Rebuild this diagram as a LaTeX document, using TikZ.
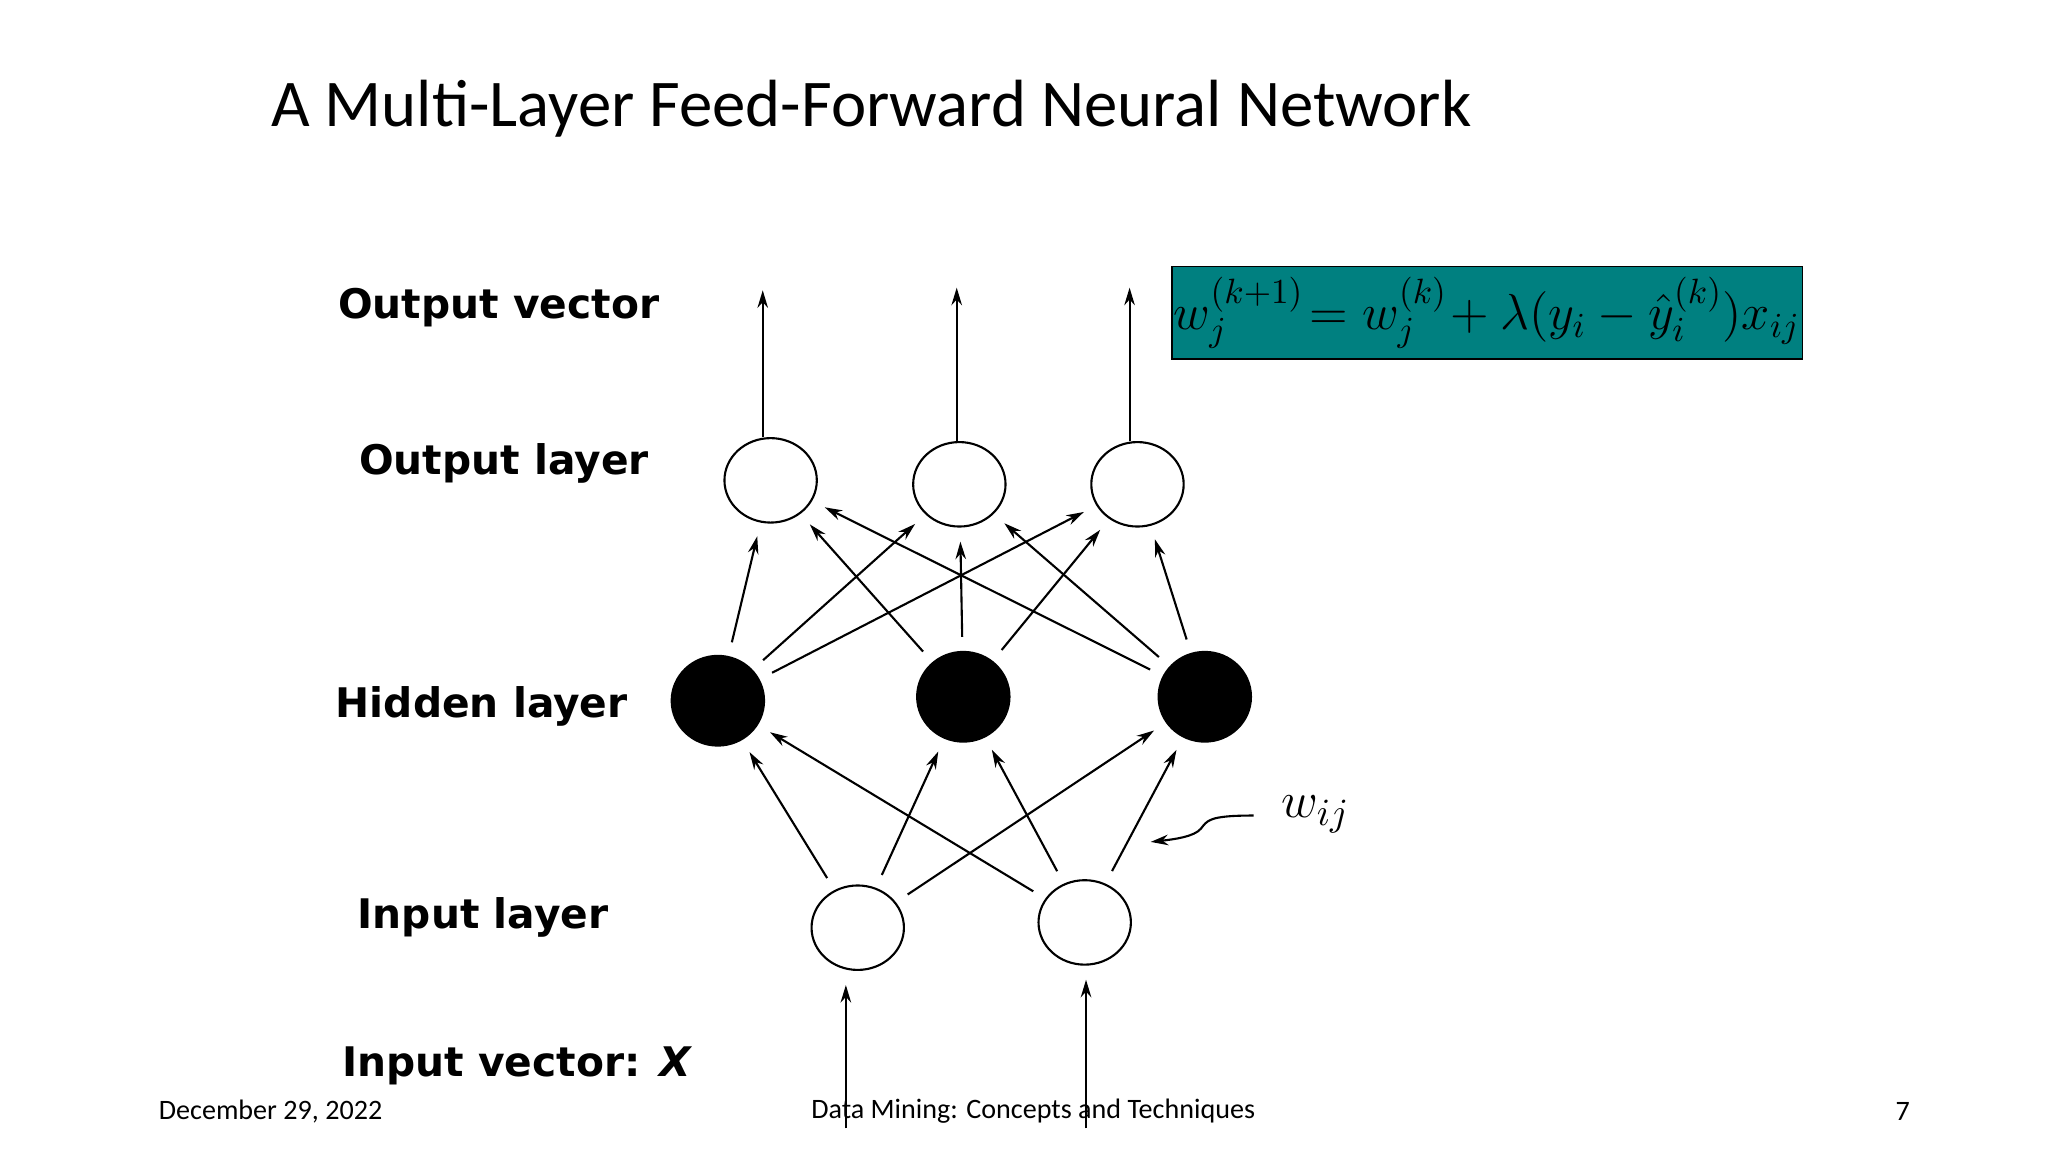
\documentclass[tikz,border=0pt]{standalone}
\usepackage{fontspec}
\setmainfont{Carlito}
\newfontfamily\lblfont{DejaVu Sans}
\usetikzlibrary{arrows.meta,shapes.geometric}
\definecolor{boxteal}{RGB}{0,128,128}
\begin{document}
\begin{tikzpicture}[x=0.013196cm, y=-0.013196cm,
    unit/.style={draw, ellipse, minimum width=70*0.013196cm, minimum height=64*0.013196cm, line width=0.6pt},
    hid/.style={unit, fill=black, minimum height=68*0.013196cm},
    lbl/.style={font=\lblfont\bfseries\fontsize{11.6}{14}\selectfont},
    link/.style={-{Stealth[length=5pt,width=3pt]}, line width=0.6pt, shorten >=4pt, shorten <=4pt}]
    % Rahmen
    \useasboundingbox (0,0) rectangle (1552,873);
    % Titel
    \node[anchor=west, font=\fontsize{19}{23}\selectfont] (title) at (196,82) {A Multi-Layer Feed-Forward Neural Network};
    % Knoten
    \node[unit] (o1) at (584,364) {};
    \node[unit] (o2) at (727,367) {};
    \node[unit] (o3) at (862,367) {};
    \node[hid] (h1) at (544,531) {};
    \node[hid] (h2) at (730,528) {};
    \node[hid] (h3) at (913,528) {};
    \node[unit] (i1) at (650,703) {};
    \node[unit] (i2) at (822,699) {};
    % Ausgabe- und Eingabepfeile
    \coordinate (v1) at (578,220);
    \coordinate (v2) at (725,218);
    \coordinate (v3) at (856,218);
    \coordinate (x1) at (641,855);
    \coordinate (x2) at (823,855);
    \draw[link, shorten <=0pt, shorten >=0pt] (o1.north) ++(-6,0) -- (v1);
    \draw[link, shorten <=0pt, shorten >=0pt] (o2.north) ++(-2,0) -- (v2);
    \draw[link, shorten <=0pt, shorten >=0pt] (o3.north) ++(-6,0) -- (v3);
    \draw[link, shorten <=0pt] (x1) -- (x1 |- i1.south);
    \draw[link, shorten <=0pt] (x2) -- (x2 |- i2.south);
    % Verbindungen
    \foreach \h in {h1,h2,h3}
      \foreach \o in {o1,o2,o3}
        \draw[link] (\h) -- (\o);
    \foreach \i in {i1,i2}
      \foreach \h in {h1,h2,h3}
        \draw[link] (\i) -- (\h);
    % Gewicht
    \node[font=\fontsize{15}{18}\selectfont] (w) at (997,617) {$w_{ij}$};
    \coordinate (wt) at (872,638);
    \draw[-{Stealth[length=5pt,width=3pt]}, line width=0.6pt] (950,618) .. controls (915,618) and (915,622) .. (910,628) .. controls (905,634) and (890,636) .. (wt);
    % Formel
    \node[draw, fill=boxteal, minimum width=478*0.013196cm, minimum height=70*0.013196cm, font=\fontsize{14.5}{17}\selectfont, inner sep=0pt] (rule) at (1127,237)
      {$w_j^{(k+1)}\!=w_j^{(k)}\!+\lambda(y_i-\hat{y}_i^{(k)})x_{ij}$};
    % Beschriftungen
    \node[lbl] (lov) at (378,233) {Output vector};
    \node[lbl] (lol) at (382,351) {Output layer};
    \node[lbl] (lhl) at (365,535) {Hidden layer};
    \node[lbl] (lil) at (366,695) {Input layer};
    \node[lbl] (liv) at (392,808) {Input vector: \textit{X}};
    % Fusszeile
    \node[font=\fontsize{8}{10}\selectfont] (date) at (205,842) {December 29, 2022};
    \node[font=\fontsize{8}{10}\selectfont] (foot) at (783,842) {Data Mining: Concepts and Techniques};
    \node[font=\fontsize{8}{10}\selectfont] (page) at (1442,842) {7};
\end{tikzpicture}
\end{document}
